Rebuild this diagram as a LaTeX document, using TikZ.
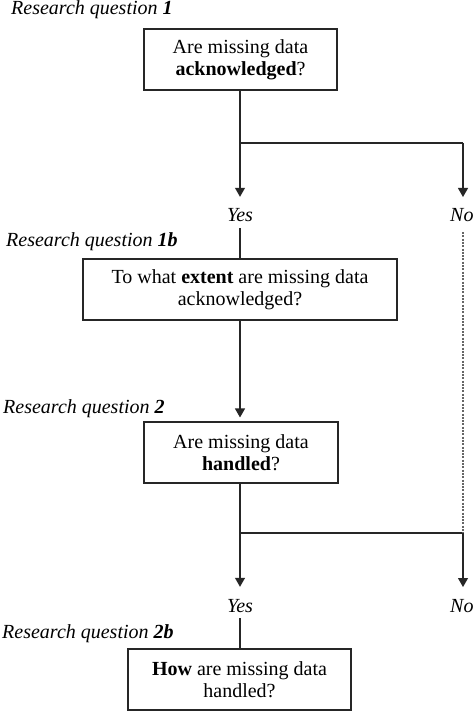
\documentclass[tikz,border=0pt]{standalone}
\usepackage{fontspec}
\setmainfont{Liberation Serif}
\usetikzlibrary{arrows.meta}
\begin{document}
\begin{tikzpicture}[x=1pt,y=-1pt,
  every node/.style={font=\fontsize{20}{22}\selectfont},
  qbox/.style={draw=black!85,line width=1.1pt,align=center,inner sep=0pt},
  rq/.style={anchor=base west,inner sep=0pt,font=\fontsize{20}{22}\selectfont\itshape},
  ans/.style={inner sep=0pt,text height=14pt,text depth=6pt,font=\fontsize{20}{22}\selectfont\itshape},
  conn/.style={draw=black!85,line width=1.1pt},
  arr/.style={conn,-{Triangle[width=10pt,length=9pt]}},
  dconn/.style={draw=black!60,line width=1.2pt,dash pattern=on 2pt off 1.3pt}]
\useasboundingbox[fill=white] (0,0) rectangle (474,711);
% labels
\node[rq] (rq1) at (11,15) {Research question \textbf{1}};
\node[rq] (rq1b) at (6,246) {Research question \textbf{1b}};
\node[rq] (rq2) at (3,413) {Research question \textbf{2}};
\node[rq] (rq2b) at (2,638) {Research question \textbf{2b}};
% boxes
\node[qbox,minimum width=193pt,minimum height=61pt] (b1) at (240.5,59.5) {Are missing data\\\textbf{acknowledged}?};
\node[qbox,minimum width=314pt,minimum height=61pt] (b1b) at (240,289.5) {To what \textbf{extent} are missing data\\acknowledged?};
\node[qbox,minimum width=194pt,minimum height=61pt] (b2) at (241,452.5) {Are missing data\\\textbf{handled}?};
\node[qbox,minimum width=223pt,minimum height=61pt] (b2b) at (239.5,679.5) {\textbf{How} are missing data\\handled?};
% answers
\node[ans,anchor=base] (y1) at (240,222) {Yes};
\node[ans,anchor=base west] (n1) at (450,222) {No};
\node[ans,anchor=base] (y2) at (240,612) {Yes};
\node[ans,anchor=base west] (n2) at (450,612) {No};
% junctions
\coordinate (j1) at (240,143);
\coordinate (k1) at (463,143);
\coordinate (j2) at (240,533);
\coordinate (k2) at (463,533);
\coordinate (n1top) at (463,197);
\coordinate (n1bot) at (463,232);
\coordinate (n2top) at (463,587);
% connectors
\draw[conn] (j1 |- b1.south) -- (j1) -- (k1);
\draw[arr] (j1) -- ([yshift=11pt]y1.north);
\draw[arr] (k1) -- (n1top);
\draw[conn] (y1.south) -- (y1.south |- b1b.north);
\draw[arr,shorten >=4pt] (y1.south |- b1b.south) -- (y1.south |- b2.north);
\draw[conn] (j2 |- b2.south) -- (j2) -- (k2);
\draw[dconn] (n1bot) -- (k2);
\draw[arr] (j2) -- ([yshift=11pt]y2.north);
\draw[arr] (k2) -- (n2top);
\draw[conn] (y2.south) -- (y2.south |- b2b.north);
\end{tikzpicture}
\end{document}
